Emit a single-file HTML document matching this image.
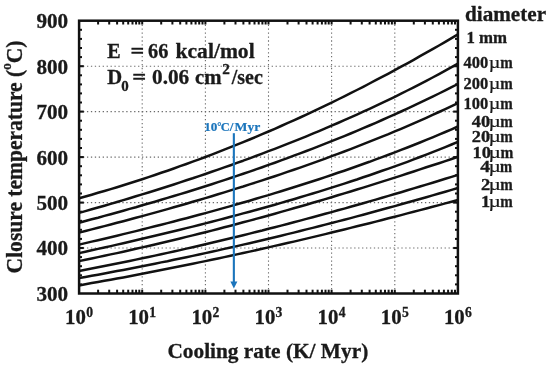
<!DOCTYPE html><html><head><meta charset="utf-8"><title>Closure temperature</title>
<style>html,body{margin:0;padding:0;background:#fff}svg{display:block}text{font-family:"Liberation Serif","DejaVu Serif",serif;font-weight:bold;fill:#1a1a1a;stroke:#1a1a1a;stroke-width:0.3px}text.bl{fill:#1b75bc;stroke:#1b75bc;stroke-width:0.2px}</style></head><body>
<svg width="550" height="371" viewBox="0 0 550 371">
<rect width="550" height="371" fill="#fff"/>
<g stroke="#6a6a6a" stroke-width="1.1" fill="none">
<line x1="142.2" y1="20.7" x2="142.2" y2="293.5" stroke-dasharray="1.3 2.63"/>
<line x1="205.4" y1="20.7" x2="205.4" y2="293.5" stroke-dasharray="1.3 2.63"/>
<line x1="268.5" y1="20.7" x2="268.5" y2="293.5" stroke-dasharray="1.3 2.63"/>
<line x1="331.6" y1="20.7" x2="331.6" y2="293.5" stroke-dasharray="1.3 2.63"/>
<line x1="394.8" y1="20.7" x2="394.8" y2="293.5" stroke-dasharray="1.3 2.63"/>
<line x1="79.1" y1="248.0" x2="457.9" y2="248.0" stroke-dasharray="1.3 2.63"/>
<line x1="79.1" y1="202.6" x2="457.9" y2="202.6" stroke-dasharray="1.3 2.63"/>
<line x1="79.1" y1="157.1" x2="457.9" y2="157.1" stroke-dasharray="1.3 2.63"/>
<line x1="79.1" y1="111.6" x2="457.9" y2="111.6" stroke-dasharray="1.3 2.63"/>
<line x1="79.1" y1="66.2" x2="457.9" y2="66.2" stroke-dasharray="1.3 2.63"/>
</g>
<g stroke="#111" stroke-width="2.5" fill="none" stroke-linejoin="round">
<polyline points="79.1,198.3 85.4,196.5 91.7,194.7 98.0,192.8 104.4,191.0 110.7,189.1 117.0,187.2 123.3,185.2 129.6,183.2 135.9,181.2 142.2,179.2 148.5,177.1 154.9,175.0 161.2,172.8 167.5,170.7 173.8,168.5 180.1,166.2 186.4,164.0 192.7,161.7 199.1,159.3 205.4,157.0 211.7,154.6 218.0,152.1 224.3,149.7 230.6,147.2 236.9,144.7 243.2,142.1 249.6,139.5 255.9,136.9 262.2,134.2 268.5,131.5 274.8,128.8 281.1,126.0 287.4,123.2 293.8,120.4 300.1,117.5 306.4,114.6 312.7,111.6 319.0,108.6 325.3,105.6 331.6,102.6 337.9,99.5 344.3,96.4 350.6,93.2 356.9,90.0 363.2,86.8 369.5,83.5 375.8,80.2 382.1,76.9 388.5,73.6 394.8,70.2 401.1,66.7 407.4,63.3 413.7,59.8 420.0,56.2 426.3,52.7 432.6,49.1 439.0,45.5 445.3,41.8 451.6,38.1 457.9,34.4"/>
<polyline points="79.1,212.9 85.4,211.1 91.7,209.3 98.0,207.5 104.4,205.7 110.7,203.9 117.0,202.0 123.3,200.1 129.6,198.2 135.9,196.3 142.2,194.4 148.5,192.5 154.9,190.5 161.2,188.5 167.5,186.5 173.8,184.5 180.1,182.4 186.4,180.3 192.7,178.3 199.1,176.1 205.4,174.0 211.7,171.8 218.0,169.6 224.3,167.4 230.6,165.2 236.9,162.9 243.2,160.7 249.6,158.3 255.9,156.0 262.2,153.6 268.5,151.2 274.8,148.8 281.1,146.4 287.4,143.9 293.8,141.4 300.1,138.9 306.4,136.3 312.7,133.7 319.0,131.1 325.3,128.4 331.6,125.7 337.9,123.0 344.3,120.2 350.6,117.4 356.9,114.6 363.2,111.7 369.5,108.8 375.8,105.9 382.1,102.9 388.5,99.8 394.8,96.8 401.1,93.7 407.4,90.5 413.7,87.3 420.0,84.1 426.3,80.8 432.6,77.5 439.0,74.1 445.3,70.7 451.6,67.2 457.9,63.7"/>
<polyline points="79.1,222.7 85.4,221.0 91.7,219.3 98.0,217.7 104.4,215.9 110.7,214.2 117.0,212.5 123.3,210.7 129.6,208.9 135.9,207.2 142.2,205.3 148.5,203.5 154.9,201.7 161.2,199.8 167.5,197.9 173.8,196.0 180.1,194.1 186.4,192.2 192.7,190.2 199.1,188.2 205.4,186.2 211.7,184.2 218.0,182.1 224.3,180.1 230.6,178.0 236.9,175.9 243.2,173.7 249.6,171.6 255.9,169.4 262.2,167.2 268.5,164.9 274.8,162.7 281.1,160.4 287.4,158.1 293.8,155.7 300.1,153.4 306.4,151.0 312.7,148.6 319.0,146.1 325.3,143.7 331.6,141.2 337.9,138.6 344.3,136.1 350.6,133.5 356.9,130.8 363.2,128.2 369.5,125.5 375.8,122.8 382.1,120.0 388.5,117.2 394.8,114.4 401.1,111.5 407.4,108.6 413.7,105.7 420.0,102.7 426.3,99.7 432.6,96.6 439.0,93.5 445.3,90.4 451.6,87.2 457.9,84.0"/>
<polyline points="79.1,232.6 85.4,231.0 91.7,229.4 98.0,227.8 104.4,226.1 110.7,224.5 117.0,222.8 123.3,221.2 129.6,219.5 135.9,217.8 142.2,216.1 148.5,214.4 154.9,212.6 161.2,210.9 167.5,209.1 173.8,207.3 180.1,205.5 186.4,203.7 192.7,201.8 199.1,200.0 205.4,198.1 211.7,196.2 218.0,194.3 224.3,192.4 230.6,190.4 236.9,188.4 243.2,186.5 249.6,184.4 255.9,182.4 262.2,180.4 268.5,178.3 274.8,176.2 281.1,174.1 287.4,171.9 293.8,169.8 300.1,167.6 306.4,165.4 312.7,163.1 319.0,160.9 325.3,158.6 331.6,156.2 337.9,153.9 344.3,151.5 350.6,149.1 356.9,146.7 363.2,144.2 369.5,141.7 375.8,139.2 382.1,136.6 388.5,134.1 394.8,131.4 401.1,128.8 407.4,126.1 413.7,123.3 420.0,120.6 426.3,117.8 432.6,114.9 439.0,112.0 445.3,109.1 451.6,106.1 457.9,103.1"/>
<polyline points="79.1,244.6 85.4,243.1 91.7,241.6 98.0,240.2 104.4,238.7 110.7,237.2 117.0,235.7 123.3,234.1 129.6,232.6 135.9,231.1 142.2,229.5 148.5,227.9 154.9,226.3 161.2,224.7 167.5,223.1 173.8,221.5 180.1,219.8 186.4,218.2 192.7,216.5 199.1,214.8 205.4,213.1 211.7,211.4 218.0,209.6 224.3,207.9 230.6,206.1 236.9,204.3 243.2,202.5 249.6,200.7 255.9,198.8 262.2,196.9 268.5,195.1 274.8,193.1 281.1,191.2 287.4,189.3 293.8,187.3 300.1,185.3 306.4,183.3 312.7,181.2 319.0,179.2 325.3,177.1 331.6,175.0 337.9,172.8 344.3,170.7 350.6,168.5 356.9,166.3 363.2,164.0 369.5,161.8 375.8,159.4 382.1,157.1 388.5,154.8 394.8,152.4 401.1,149.9 407.4,147.5 413.7,145.0 420.0,142.5 426.3,139.9 432.6,137.3 439.0,134.7 445.3,132.0 451.6,129.3 457.9,126.5"/>
<polyline points="79.1,253.1 85.4,251.7 91.7,250.3 98.0,248.9 104.4,247.5 110.7,246.1 117.0,244.6 123.3,243.2 129.6,241.7 135.9,240.3 142.2,238.8 148.5,237.3 154.9,235.8 161.2,234.3 167.5,232.8 173.8,231.3 180.1,229.7 186.4,228.1 192.7,226.6 199.1,225.0 205.4,223.4 211.7,221.8 218.0,220.1 224.3,218.5 230.6,216.8 236.9,215.1 243.2,213.4 249.6,211.7 255.9,210.0 262.2,208.2 268.5,206.5 274.8,204.7 281.1,202.9 287.4,201.0 293.8,199.2 300.1,197.3 306.4,195.4 312.7,193.5 319.0,191.6 325.3,189.6 331.6,187.6 337.9,185.6 344.3,183.6 350.6,181.5 356.9,179.5 363.2,177.3 369.5,175.2 375.8,173.0 382.1,170.8 388.5,168.6 394.8,166.4 401.1,164.1 407.4,161.8 413.7,159.4 420.0,157.0 426.3,154.6 432.6,152.1 439.0,149.6 445.3,147.1 451.6,144.5 457.9,141.9"/>
<polyline points="79.1,261.1 85.4,259.8 91.7,258.5 98.0,257.1 104.4,255.8 110.7,254.4 117.0,253.1 123.3,251.7 129.6,250.3 135.9,248.8 142.2,247.4 148.5,246.0 154.9,244.5 161.2,243.0 167.5,241.5 173.8,240.0 180.1,238.5 186.4,236.9 192.7,235.4 199.1,233.8 205.4,232.2 211.7,230.6 218.0,229.0 224.3,227.3 230.6,225.7 236.9,224.0 243.2,222.3 249.6,220.6 255.9,218.9 262.2,217.2 268.5,215.5 274.8,213.7 281.1,211.9 287.4,210.1 293.8,208.3 300.1,206.5 306.4,204.7 312.7,202.8 319.0,201.0 325.3,199.1 331.6,197.2 337.9,195.3 344.3,193.4 350.6,191.5 356.9,189.5 363.2,187.6 369.5,185.6 375.8,183.6 382.1,181.6 388.5,179.6 394.8,177.6 401.1,175.6 407.4,173.5 413.7,171.5 420.0,169.4 426.3,167.3 432.6,165.3 439.0,163.2 445.3,161.1 451.6,159.0 457.9,156.8"/>
<polyline points="79.1,271.0 85.4,269.8 91.7,268.6 98.0,267.3 104.4,266.1 110.7,264.8 117.0,263.5 123.3,262.3 129.6,261.0 135.9,259.6 142.2,258.3 148.5,257.0 154.9,255.6 161.2,254.3 167.5,252.9 173.8,251.5 180.1,250.1 186.4,248.6 192.7,247.2 199.1,245.7 205.4,244.3 211.7,242.8 218.0,241.3 224.3,239.8 230.6,238.3 236.9,236.7 243.2,235.2 249.6,233.6 255.9,232.0 262.2,230.5 268.5,228.8 274.8,227.2 281.1,225.6 287.4,224.0 293.8,222.3 300.1,220.6 306.4,218.9 312.7,217.2 319.0,215.5 325.3,213.8 331.6,212.1 337.9,210.3 344.3,208.6 350.6,206.8 356.9,205.0 363.2,203.2 369.5,201.4 375.8,199.6 382.1,197.7 388.5,195.9 394.8,194.0 401.1,192.2 407.4,190.3 413.7,188.4 420.0,186.5 426.3,184.6 432.6,182.7 439.0,180.8 445.3,178.8 451.6,176.9 457.9,174.9"/>
<polyline points="79.1,278.1 85.4,276.9 91.7,275.8 98.0,274.7 104.4,273.5 110.7,272.3 117.0,271.1 123.3,269.9 129.6,268.7 135.9,267.5 142.2,266.2 148.5,265.0 154.9,263.7 161.2,262.4 167.5,261.2 173.8,259.8 180.1,258.5 186.4,257.2 192.7,255.9 199.1,254.5 205.4,253.1 211.7,251.7 218.0,250.4 224.3,248.9 230.6,247.5 236.9,246.1 243.2,244.6 249.6,243.2 255.9,241.7 262.2,240.2 268.5,238.7 274.8,237.2 281.1,235.7 287.4,234.1 293.8,232.6 300.1,231.0 306.4,229.4 312.7,227.9 319.0,226.3 325.3,224.6 331.6,223.0 337.9,221.4 344.3,219.7 350.6,218.1 356.9,216.4 363.2,214.7 369.5,213.0 375.8,211.3 382.1,209.5 388.5,207.8 394.8,206.1 401.1,204.3 407.4,202.5 413.7,200.8 420.0,199.0 426.3,197.2 432.6,195.4 439.0,193.5 445.3,191.7 451.6,189.9 457.9,188.0"/>
<polyline points="79.1,285.4 85.4,284.2 91.7,283.1 98.0,282.0 104.4,280.8 110.7,279.7 117.0,278.5 123.3,277.4 129.6,276.2 135.9,275.0 142.2,273.8 148.5,272.6 154.9,271.3 161.2,270.1 167.5,268.8 173.8,267.6 180.1,266.3 186.4,265.0 192.7,263.7 199.1,262.4 205.4,261.1 211.7,259.8 218.0,258.5 224.3,257.1 230.6,255.7 236.9,254.4 243.2,253.0 249.6,251.6 255.9,250.2 262.2,248.8 268.5,247.4 274.8,245.9 281.1,244.5 287.4,243.0 293.8,241.6 300.1,240.1 306.4,238.6 312.7,237.1 319.0,235.6 325.3,234.1 331.6,232.5 337.9,231.0 344.3,229.5 350.6,227.9 356.9,226.3 363.2,224.8 369.5,223.2 375.8,221.6 382.1,220.0 388.5,218.3 394.8,216.7 401.1,215.1 407.4,213.4 413.7,211.8 420.0,210.1 426.3,208.5 432.6,206.8 439.0,205.1 445.3,203.4 451.6,201.7 457.9,200.0"/>
</g>
<g stroke="#111" stroke-width="2" fill="none">
<line x1="98.1" y1="293.5" x2="98.1" y2="289.7"/><line x1="98.1" y1="20.7" x2="98.1" y2="24.5"/>
<line x1="109.2" y1="293.5" x2="109.2" y2="289.7"/><line x1="109.2" y1="20.7" x2="109.2" y2="24.5"/>
<line x1="117.1" y1="293.5" x2="117.1" y2="289.7"/><line x1="117.1" y1="20.7" x2="117.1" y2="24.5"/>
<line x1="123.2" y1="293.5" x2="123.2" y2="289.7"/><line x1="123.2" y1="20.7" x2="123.2" y2="24.5"/>
<line x1="128.2" y1="293.5" x2="128.2" y2="289.7"/><line x1="128.2" y1="20.7" x2="128.2" y2="24.5"/>
<line x1="132.5" y1="293.5" x2="132.5" y2="289.7"/><line x1="132.5" y1="20.7" x2="132.5" y2="24.5"/>
<line x1="136.1" y1="293.5" x2="136.1" y2="289.7"/><line x1="136.1" y1="20.7" x2="136.1" y2="24.5"/>
<line x1="139.3" y1="293.5" x2="139.3" y2="289.7"/><line x1="139.3" y1="20.7" x2="139.3" y2="24.5"/>
<line x1="161.2" y1="293.5" x2="161.2" y2="289.7"/><line x1="161.2" y1="20.7" x2="161.2" y2="24.5"/>
<line x1="172.4" y1="293.5" x2="172.4" y2="289.7"/><line x1="172.4" y1="20.7" x2="172.4" y2="24.5"/>
<line x1="180.2" y1="293.5" x2="180.2" y2="289.7"/><line x1="180.2" y1="20.7" x2="180.2" y2="24.5"/>
<line x1="186.4" y1="293.5" x2="186.4" y2="289.7"/><line x1="186.4" y1="20.7" x2="186.4" y2="24.5"/>
<line x1="191.4" y1="293.5" x2="191.4" y2="289.7"/><line x1="191.4" y1="20.7" x2="191.4" y2="24.5"/>
<line x1="195.6" y1="293.5" x2="195.6" y2="289.7"/><line x1="195.6" y1="20.7" x2="195.6" y2="24.5"/>
<line x1="199.2" y1="293.5" x2="199.2" y2="289.7"/><line x1="199.2" y1="20.7" x2="199.2" y2="24.5"/>
<line x1="202.5" y1="293.5" x2="202.5" y2="289.7"/><line x1="202.5" y1="20.7" x2="202.5" y2="24.5"/>
<line x1="224.4" y1="293.5" x2="224.4" y2="289.7"/><line x1="224.4" y1="20.7" x2="224.4" y2="24.5"/>
<line x1="235.5" y1="293.5" x2="235.5" y2="289.7"/><line x1="235.5" y1="20.7" x2="235.5" y2="24.5"/>
<line x1="243.4" y1="293.5" x2="243.4" y2="289.7"/><line x1="243.4" y1="20.7" x2="243.4" y2="24.5"/>
<line x1="249.5" y1="293.5" x2="249.5" y2="289.7"/><line x1="249.5" y1="20.7" x2="249.5" y2="24.5"/>
<line x1="254.5" y1="293.5" x2="254.5" y2="289.7"/><line x1="254.5" y1="20.7" x2="254.5" y2="24.5"/>
<line x1="258.7" y1="293.5" x2="258.7" y2="289.7"/><line x1="258.7" y1="20.7" x2="258.7" y2="24.5"/>
<line x1="262.4" y1="293.5" x2="262.4" y2="289.7"/><line x1="262.4" y1="20.7" x2="262.4" y2="24.5"/>
<line x1="265.6" y1="293.5" x2="265.6" y2="289.7"/><line x1="265.6" y1="20.7" x2="265.6" y2="24.5"/>
<line x1="287.5" y1="293.5" x2="287.5" y2="289.7"/><line x1="287.5" y1="20.7" x2="287.5" y2="24.5"/>
<line x1="298.6" y1="293.5" x2="298.6" y2="289.7"/><line x1="298.6" y1="20.7" x2="298.6" y2="24.5"/>
<line x1="306.5" y1="293.5" x2="306.5" y2="289.7"/><line x1="306.5" y1="20.7" x2="306.5" y2="24.5"/>
<line x1="312.6" y1="293.5" x2="312.6" y2="289.7"/><line x1="312.6" y1="20.7" x2="312.6" y2="24.5"/>
<line x1="317.6" y1="293.5" x2="317.6" y2="289.7"/><line x1="317.6" y1="20.7" x2="317.6" y2="24.5"/>
<line x1="321.9" y1="293.5" x2="321.9" y2="289.7"/><line x1="321.9" y1="20.7" x2="321.9" y2="24.5"/>
<line x1="325.5" y1="293.5" x2="325.5" y2="289.7"/><line x1="325.5" y1="20.7" x2="325.5" y2="24.5"/>
<line x1="328.7" y1="293.5" x2="328.7" y2="289.7"/><line x1="328.7" y1="20.7" x2="328.7" y2="24.5"/>
<line x1="350.6" y1="293.5" x2="350.6" y2="289.7"/><line x1="350.6" y1="20.7" x2="350.6" y2="24.5"/>
<line x1="361.8" y1="293.5" x2="361.8" y2="289.7"/><line x1="361.8" y1="20.7" x2="361.8" y2="24.5"/>
<line x1="369.6" y1="293.5" x2="369.6" y2="289.7"/><line x1="369.6" y1="20.7" x2="369.6" y2="24.5"/>
<line x1="375.8" y1="293.5" x2="375.8" y2="289.7"/><line x1="375.8" y1="20.7" x2="375.8" y2="24.5"/>
<line x1="380.8" y1="293.5" x2="380.8" y2="289.7"/><line x1="380.8" y1="20.7" x2="380.8" y2="24.5"/>
<line x1="385.0" y1="293.5" x2="385.0" y2="289.7"/><line x1="385.0" y1="20.7" x2="385.0" y2="24.5"/>
<line x1="388.6" y1="293.5" x2="388.6" y2="289.7"/><line x1="388.6" y1="20.7" x2="388.6" y2="24.5"/>
<line x1="391.9" y1="293.5" x2="391.9" y2="289.7"/><line x1="391.9" y1="20.7" x2="391.9" y2="24.5"/>
<line x1="413.8" y1="293.5" x2="413.8" y2="289.7"/><line x1="413.8" y1="20.7" x2="413.8" y2="24.5"/>
<line x1="424.9" y1="293.5" x2="424.9" y2="289.7"/><line x1="424.9" y1="20.7" x2="424.9" y2="24.5"/>
<line x1="432.8" y1="293.5" x2="432.8" y2="289.7"/><line x1="432.8" y1="20.7" x2="432.8" y2="24.5"/>
<line x1="438.9" y1="293.5" x2="438.9" y2="289.7"/><line x1="438.9" y1="20.7" x2="438.9" y2="24.5"/>
<line x1="443.9" y1="293.5" x2="443.9" y2="289.7"/><line x1="443.9" y1="20.7" x2="443.9" y2="24.5"/>
<line x1="448.1" y1="293.5" x2="448.1" y2="289.7"/><line x1="448.1" y1="20.7" x2="448.1" y2="24.5"/>
<line x1="451.8" y1="293.5" x2="451.8" y2="289.7"/><line x1="451.8" y1="20.7" x2="451.8" y2="24.5"/>
<line x1="455.0" y1="293.5" x2="455.0" y2="289.7"/><line x1="455.0" y1="20.7" x2="455.0" y2="24.5"/>
<line x1="142.2" y1="293.5" x2="142.2" y2="289.7"/><line x1="142.2" y1="20.7" x2="142.2" y2="24.5"/>
<line x1="205.4" y1="293.5" x2="205.4" y2="289.7"/><line x1="205.4" y1="20.7" x2="205.4" y2="24.5"/>
<line x1="268.5" y1="293.5" x2="268.5" y2="289.7"/><line x1="268.5" y1="20.7" x2="268.5" y2="24.5"/>
<line x1="331.6" y1="293.5" x2="331.6" y2="289.7"/><line x1="331.6" y1="20.7" x2="331.6" y2="24.5"/>
<line x1="394.8" y1="293.5" x2="394.8" y2="289.7"/><line x1="394.8" y1="20.7" x2="394.8" y2="24.5"/>
<line x1="79.1" y1="284.4" x2="82.0" y2="284.4"/><line x1="457.9" y1="284.4" x2="455.0" y2="284.4"/>
<line x1="79.1" y1="275.3" x2="82.0" y2="275.3"/><line x1="457.9" y1="275.3" x2="455.0" y2="275.3"/>
<line x1="79.1" y1="266.2" x2="82.0" y2="266.2"/><line x1="457.9" y1="266.2" x2="455.0" y2="266.2"/>
<line x1="79.1" y1="257.1" x2="82.0" y2="257.1"/><line x1="457.9" y1="257.1" x2="455.0" y2="257.1"/>
<line x1="79.1" y1="248.0" x2="83.8" y2="248.0" stroke-width="2.1"/><line x1="457.9" y1="248.0" x2="453.2" y2="248.0" stroke-width="2.1"/>
<line x1="79.1" y1="238.9" x2="82.0" y2="238.9"/><line x1="457.9" y1="238.9" x2="455.0" y2="238.9"/>
<line x1="79.1" y1="229.8" x2="82.0" y2="229.8"/><line x1="457.9" y1="229.8" x2="455.0" y2="229.8"/>
<line x1="79.1" y1="220.8" x2="82.0" y2="220.8"/><line x1="457.9" y1="220.8" x2="455.0" y2="220.8"/>
<line x1="79.1" y1="211.7" x2="82.0" y2="211.7"/><line x1="457.9" y1="211.7" x2="455.0" y2="211.7"/>
<line x1="79.1" y1="202.6" x2="83.8" y2="202.6" stroke-width="2.1"/><line x1="457.9" y1="202.6" x2="453.2" y2="202.6" stroke-width="2.1"/>
<line x1="79.1" y1="193.5" x2="82.0" y2="193.5"/><line x1="457.9" y1="193.5" x2="455.0" y2="193.5"/>
<line x1="79.1" y1="184.4" x2="82.0" y2="184.4"/><line x1="457.9" y1="184.4" x2="455.0" y2="184.4"/>
<line x1="79.1" y1="175.3" x2="82.0" y2="175.3"/><line x1="457.9" y1="175.3" x2="455.0" y2="175.3"/>
<line x1="79.1" y1="166.2" x2="82.0" y2="166.2"/><line x1="457.9" y1="166.2" x2="455.0" y2="166.2"/>
<line x1="79.1" y1="157.1" x2="83.8" y2="157.1" stroke-width="2.1"/><line x1="457.9" y1="157.1" x2="453.2" y2="157.1" stroke-width="2.1"/>
<line x1="79.1" y1="148.0" x2="82.0" y2="148.0"/><line x1="457.9" y1="148.0" x2="455.0" y2="148.0"/>
<line x1="79.1" y1="138.9" x2="82.0" y2="138.9"/><line x1="457.9" y1="138.9" x2="455.0" y2="138.9"/>
<line x1="79.1" y1="129.8" x2="82.0" y2="129.8"/><line x1="457.9" y1="129.8" x2="455.0" y2="129.8"/>
<line x1="79.1" y1="120.7" x2="82.0" y2="120.7"/><line x1="457.9" y1="120.7" x2="455.0" y2="120.7"/>
<line x1="79.1" y1="111.6" x2="83.8" y2="111.6" stroke-width="2.1"/><line x1="457.9" y1="111.6" x2="453.2" y2="111.6" stroke-width="2.1"/>
<line x1="79.1" y1="102.5" x2="82.0" y2="102.5"/><line x1="457.9" y1="102.5" x2="455.0" y2="102.5"/>
<line x1="79.1" y1="93.4" x2="82.0" y2="93.4"/><line x1="457.9" y1="93.4" x2="455.0" y2="93.4"/>
<line x1="79.1" y1="84.4" x2="82.0" y2="84.4"/><line x1="457.9" y1="84.4" x2="455.0" y2="84.4"/>
<line x1="79.1" y1="75.3" x2="82.0" y2="75.3"/><line x1="457.9" y1="75.3" x2="455.0" y2="75.3"/>
<line x1="79.1" y1="66.2" x2="83.8" y2="66.2" stroke-width="2.1"/><line x1="457.9" y1="66.2" x2="453.2" y2="66.2" stroke-width="2.1"/>
<line x1="79.1" y1="57.1" x2="82.0" y2="57.1"/><line x1="457.9" y1="57.1" x2="455.0" y2="57.1"/>
<line x1="79.1" y1="48.0" x2="82.0" y2="48.0"/><line x1="457.9" y1="48.0" x2="455.0" y2="48.0"/>
<line x1="79.1" y1="38.9" x2="82.0" y2="38.9"/><line x1="457.9" y1="38.9" x2="455.0" y2="38.9"/>
<line x1="79.1" y1="29.8" x2="82.0" y2="29.8"/><line x1="457.9" y1="29.8" x2="455.0" y2="29.8"/>
</g>
<rect x="79.1" y="20.7" width="378.8" height="272.8" fill="none" stroke="#111" stroke-width="2.5"/>
<g fill="#1b75bc" stroke="none"><rect x="232.8" y="133.2" width="2.1" height="150"/><polygon points="230.4,281.6 237.4,281.6 233.9,288.5"/></g>
<text transform="translate(68.2 300.9) scale(1.012 1)" font-size="20.9" text-anchor="end">300</text>
<text transform="translate(68.2 255.4) scale(1.012 1)" font-size="20.9" text-anchor="end">400</text>
<text transform="translate(68.2 210.0) scale(1.012 1)" font-size="20.9" text-anchor="end">500</text>
<text transform="translate(68.2 164.5) scale(1.012 1)" font-size="20.9" text-anchor="end">600</text>
<text transform="translate(68.2 119.0) scale(1.012 1)" font-size="20.9" text-anchor="end">700</text>
<text transform="translate(68.2 73.6) scale(1.012 1)" font-size="20.9" text-anchor="end">800</text>
<text transform="translate(68.2 28.1) scale(1.012 1)" font-size="20.9" text-anchor="end">900</text>
<text transform="translate(65.1 324.2) scale(1.0 1)" font-size="20.8" text-anchor="start">10<tspan font-size="13.6" dx="0.3" dy="-7.2">0</tspan></text>
<text transform="translate(128.2 324.2) scale(1.0 1)" font-size="20.8" text-anchor="start">10<tspan font-size="13.6" dx="0.3" dy="-7.2">1</tspan></text>
<text transform="translate(191.4 324.2) scale(1.0 1)" font-size="20.8" text-anchor="start">10<tspan font-size="13.6" dx="0.3" dy="-7.2">2</tspan></text>
<text transform="translate(254.5 324.2) scale(1.0 1)" font-size="20.8" text-anchor="start">10<tspan font-size="13.6" dx="0.3" dy="-7.2">3</tspan></text>
<text transform="translate(317.6 324.2) scale(1.0 1)" font-size="20.8" text-anchor="start">10<tspan font-size="13.6" dx="0.3" dy="-7.2">4</tspan></text>
<text transform="translate(380.8 324.2) scale(1.0 1)" font-size="20.8" text-anchor="start">10<tspan font-size="13.6" dx="0.3" dy="-7.2">5</tspan></text>
<text transform="translate(443.9 324.2) scale(1.0 1)" font-size="20.8" text-anchor="start">10<tspan font-size="13.6" dx="0.3" dy="-7.2">6</tspan></text>
<text transform="translate(167.4 357.7) scale(1.017 1)" font-size="21" text-anchor="start">Cooling rate (K/ Myr)</text>
<text transform="translate(22.0 273.4) rotate(-90) scale(0.936 1)" font-size="23">Closure temperature (<tspan font-size="14" dy="-11.4">o</tspan><tspan dy="11.4">C)</tspan></text>
<text class="bl"><tspan x="204.20" y="130.7" font-size="12.9" textLength="13.15" lengthAdjust="spacingAndGlyphs">10</tspan><tspan x="217.36" y="129.6" font-size="10" textLength="4.08" lengthAdjust="spacingAndGlyphs">°</tspan><tspan x="220.83" y="130.7" font-size="12.2" textLength="8.99" lengthAdjust="spacingAndGlyphs">C</tspan><tspan x="229.81" y="130.7" font-size="12.9" textLength="3.67" lengthAdjust="spacingAndGlyphs">/</tspan><tspan x="234.60" y="130.7" font-size="12.9" textLength="25.80" lengthAdjust="spacingAndGlyphs">Myr</tspan></text>
<text><tspan x="107.16" y="57.7" font-size="20.8" textLength="13.39" lengthAdjust="spacingAndGlyphs">E</tspan> <tspan x="130.44" y="57.7" font-size="20.8" textLength="13.74" lengthAdjust="spacingAndGlyphs">=</tspan> <tspan x="148.11" y="57.7" font-size="20.8" textLength="20.32" lengthAdjust="spacingAndGlyphs">66</tspan> <tspan x="175.54" y="57.7" font-size="20.8" textLength="79.14" lengthAdjust="spacingAndGlyphs">kcal/mol</tspan></text>
<text><tspan x="107.15" y="84.0" font-size="20.8" textLength="14.92" lengthAdjust="spacingAndGlyphs">D</tspan><tspan x="121.27" y="90.6" font-size="14" textLength="7.47" lengthAdjust="spacingAndGlyphs">0</tspan> <tspan x="132.32" y="84.0" font-size="20.8" textLength="13.99" lengthAdjust="spacingAndGlyphs">=</tspan> <tspan x="152.03" y="84.0" font-size="20.8" textLength="37.18" lengthAdjust="spacingAndGlyphs">0.06</tspan> <tspan x="195.10" y="84.0" font-size="20.8" textLength="26.51" lengthAdjust="spacingAndGlyphs">cm</tspan><tspan x="222.16" y="74.0" font-size="14" textLength="7.58" lengthAdjust="spacingAndGlyphs">2</tspan><tspan x="231.74" y="84.0" font-size="20.8" textLength="31.09" lengthAdjust="spacingAndGlyphs">/sec</tspan></text>
<text><tspan x="465.00" y="21.0" font-size="20.6" textLength="81.04" lengthAdjust="spacingAndGlyphs">diameter</tspan></text>
<text><tspan x="466.40" y="42.8" font-size="16.5" textLength="40.67" lengthAdjust="spacingAndGlyphs">1 mm</tspan></text>
<text><tspan x="463.46" y="68.0" font-size="16.1" textLength="24.74" lengthAdjust="spacingAndGlyphs">400</tspan><tspan x="488.80" y="68.0" font-size="16.1" textLength="11.60" lengthAdjust="spacingAndGlyphs" style="font-weight:normal;stroke-width:0.2px">µ</tspan><tspan x="500.23" y="68.0" font-size="16.1" textLength="12.47" lengthAdjust="spacingAndGlyphs">m</tspan></text>
<text><tspan x="463.46" y="88.5" font-size="16.1" textLength="24.74" lengthAdjust="spacingAndGlyphs">200</tspan><tspan x="488.80" y="88.5" font-size="16.1" textLength="11.60" lengthAdjust="spacingAndGlyphs" style="font-weight:normal;stroke-width:0.2px">µ</tspan><tspan x="500.23" y="88.5" font-size="16.1" textLength="12.47" lengthAdjust="spacingAndGlyphs">m</tspan></text>
<text><tspan x="463.46" y="109.3" font-size="16.1" textLength="24.74" lengthAdjust="spacingAndGlyphs">100</tspan><tspan x="488.80" y="109.3" font-size="16.1" textLength="11.60" lengthAdjust="spacingAndGlyphs" style="font-weight:normal;stroke-width:0.2px">µ</tspan><tspan x="500.23" y="109.3" font-size="16.1" textLength="12.47" lengthAdjust="spacingAndGlyphs">m</tspan></text>
<text><tspan x="471.85" y="127.3" font-size="16.1" textLength="18.35" lengthAdjust="spacingAndGlyphs">40</tspan><tspan x="488.40" y="127.3" font-size="16.1" textLength="12.34" lengthAdjust="spacingAndGlyphs" style="font-weight:normal;stroke-width:0.2px">µ</tspan><tspan x="500.33" y="127.3" font-size="16.1" textLength="12.47" lengthAdjust="spacingAndGlyphs">m</tspan></text>
<text><tspan x="471.85" y="142.3" font-size="16.1" textLength="18.35" lengthAdjust="spacingAndGlyphs">20</tspan><tspan x="488.40" y="142.3" font-size="16.1" textLength="12.34" lengthAdjust="spacingAndGlyphs" style="font-weight:normal;stroke-width:0.2px">µ</tspan><tspan x="500.33" y="142.3" font-size="16.1" textLength="12.47" lengthAdjust="spacingAndGlyphs">m</tspan></text>
<text><tspan x="472.55" y="157.5" font-size="16.1" textLength="18.35" lengthAdjust="spacingAndGlyphs">10</tspan><tspan x="488.40" y="157.5" font-size="16.1" textLength="12.34" lengthAdjust="spacingAndGlyphs" style="font-weight:normal;stroke-width:0.2px">µ</tspan><tspan x="500.43" y="157.5" font-size="16.1" textLength="12.87" lengthAdjust="spacingAndGlyphs">m</tspan></text>
<text><tspan x="480.38" y="171.8" font-size="16.1" textLength="9.82" lengthAdjust="spacingAndGlyphs">4</tspan><tspan x="488.40" y="171.8" font-size="16.1" textLength="12.34" lengthAdjust="spacingAndGlyphs" style="font-weight:normal;stroke-width:0.2px">µ</tspan><tspan x="500.03" y="171.8" font-size="16.1" textLength="12.07" lengthAdjust="spacingAndGlyphs">m</tspan></text>
<text><tspan x="481.03" y="189.6" font-size="16.1" textLength="9.17" lengthAdjust="spacingAndGlyphs">2</tspan><tspan x="488.40" y="189.6" font-size="16.1" textLength="12.34" lengthAdjust="spacingAndGlyphs" style="font-weight:normal;stroke-width:0.2px">µ</tspan><tspan x="500.33" y="189.6" font-size="16.1" textLength="12.47" lengthAdjust="spacingAndGlyphs">m</tspan></text>
<text><tspan x="481.03" y="207.2" font-size="16.1" textLength="9.17" lengthAdjust="spacingAndGlyphs">1</tspan><tspan x="488.40" y="207.2" font-size="16.1" textLength="12.34" lengthAdjust="spacingAndGlyphs" style="font-weight:normal;stroke-width:0.2px">µ</tspan><tspan x="500.33" y="207.2" font-size="16.1" textLength="12.47" lengthAdjust="spacingAndGlyphs">m</tspan></text>
</svg></body></html>
